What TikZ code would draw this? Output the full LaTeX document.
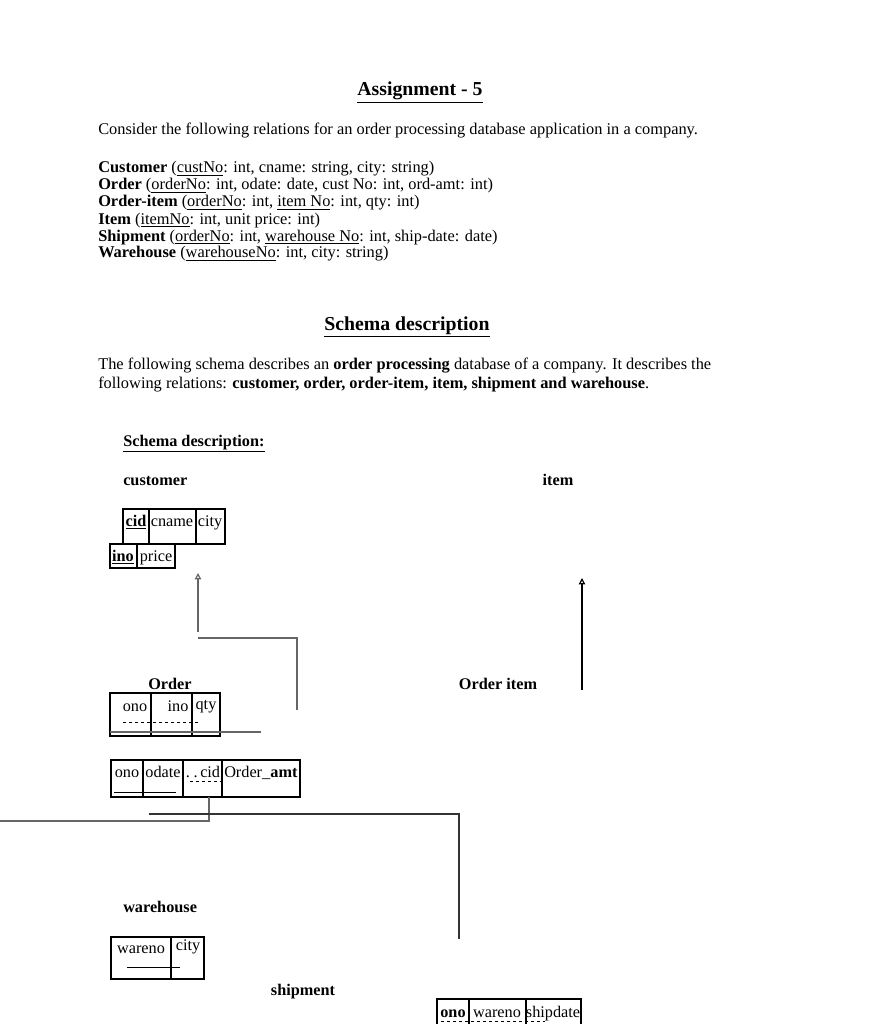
\documentclass[tikz,border=0pt]{standalone}
\usepackage{fontspec}
\setmainfont{Liberation Serif}
\usetikzlibrary{arrows.meta}

\tikzset{
  body/.style={inner sep=0pt, anchor=base west, font=\fontsize{13.1}{15}\selectfont},
  head/.style={inner sep=0pt, anchor=base, font=\fontsize{15.8}{19}\selectfont\bfseries},
  lbl/.style={inner sep=0pt, anchor=base, font=\fontsize{13}{15}\selectfont},
  tname/.style={lbl, font=\fontsize{13}{15}\selectfont\bfseries},
  tbox/.style={line width=1pt},
  link/.style={line width=1pt, black!60},
  keyline/.style={line width=0.8pt, dash pattern=on 2.4pt off 2.4pt},
  uparrow/.style={-{Triangle[open,length=5pt,width=5pt]}},
}

\begin{document}
\begin{tikzpicture}[x=0.8pt, y=-0.8pt]
\fill[white] (0,0) rectangle (875,1024);
\useasboundingbox (0,0) rectangle (875,1024);

% title
\node[head] (title) at (420,96) {\underline{Assignment - 5}};
\node[body] (intro) at (98,135) {Consider the following relations for an order processing database application in a company.};

% relations
\node[body] (rcust) at (98,173) {\textbf{Customer} (\underline{custNo}: int, cname: string, city: string)};
\node[body] (rord) at (98,190) {\textbf{Order} (\underline{orderNo}: int, odate: date, cust No: int, ord-amt: int)};
\node[body] (rordit) at (98,207) {\textbf{Order-item} (\underline{orderNo}: int, \underline{item No}: int, qty: int)};
\node[body] (ritem) at (98,224) {\textbf{Item} (\underline{itemNo}: int, unit price: int)};
\node[body] (rship) at (98,241) {\textbf{Shipment} (\underline{orderNo}: int, \underline{warehouse No}: int, ship-date: date)};
\node[body] (rware) at (98,258) {\textbf{Warehouse} (\underline{warehouseNo}: int, city: string)};

% schema description
\node[head] (schema) at (407,330) {\underline{Schema description}};
\node[body] (para1) at (98,369) {The following schema describes an \textbf{order processing} database of a company. It describes the};
\node[body] (para2) at (98,388) {following relations: \textbf{customer, order, order-item, item, shipment and warehouse}.};

% diagram labels
\node[tname, anchor=base west] (sdesc) at (123,446) {\underline{Schema description:}};
\node[tname, anchor=base west] (lcust) at (123,485) {customer};
\node[tname] (litem) at (558,485) {item};
\node[tname] (lorder) at (170,689) {Order};
\node[tname] (lorditem) at (498,689) {Order item};
\node[tname, anchor=base west] (lware) at (123,912) {warehouse};
\node[tname] (lship) at (303,995) {shipment};

% customer table
\draw[tbox] (123,509) rectangle (225,544);
\draw[tbox] (149,509) -- (149,544) (196,509) -- (196,544);
\node[lbl] (cid) at (136,526) {\textbf{\underline{cid}}};
\node[lbl] (cname) at (172,526) {cname};
\node[lbl] (ccity) at (210,526) {city};

% item table
\draw[line width=1.4pt] (110,544) rectangle (175,568);
\draw[tbox] (137,544) -- (137,568);
\node[lbl] (ino) at (123,561) {\textbf{\underline{ino}}};
\node[lbl] (price) at (156,561) {price};

% link order item -> item
\coordinate (a1) at (198,632);
\coordinate (a2) at (198,573);
\coordinate (b1) at (198,638);
\coordinate (b2) at (297,638);
\coordinate (b3) at (297,710);
\draw[link, uparrow] (a1) -- (a2);
\draw[link] (b1) -- (b2) -- (b3);

% order item table
\draw[tbox] (110,693) rectangle (220,736);
\draw[tbox] (151,693) -- (151,736) (192,693) -- (192,736);
\draw[link] (110,732) -- (261,732);
\node[lbl] (oino) at (135,711) {ono};
\node[lbl] (iino) at (178,711) {ino};
\node[lbl] (qty) at (206,709) {qty};
\draw[keyline] (123,722) -- (200,722);

% link order item -> item (right)
\coordinate (c1) at (582,690);
\coordinate (c2) at (582,578);
\draw[tbox, uparrow] (c1) -- (c2);

% order table
\draw[tbox] (111,760) rectangle (300,797);
\draw[tbox] (143,760) -- (143,797) (183,760) -- (183,797) (222,760) -- (222,797);
\node[lbl] (ono) at (127,777) {ono};
\node[lbl] (odate) at (163,777) {odate};
\node[lbl] (ocid) at (203,777) {.\hspace{3pt}.\hspace{2pt}cid};
\node[lbl, anchor=base west] (oamt) at (224,777) {Order\_\textbf{amt}};
\draw[line width=0.8pt] (114,792) -- (176,792);
\draw[keyline] (190,781) -- (224,781);

% links from order
\coordinate (d1) at (209,797);
\coordinate (d2) at (209,821);
\coordinate (d3) at (0,821);
\coordinate (e1) at (149,814);
\coordinate (e2) at (459,814);
\coordinate (e3) at (459,939);
\draw[link] (d1) -- (d2) -- (d3);
\draw[tbox, black!80] (e1) -- (e2) -- (e3);

% warehouse table
\draw[tbox] (111,937) rectangle (204,979);
\draw[tbox] (171,937) -- (171,979);
\node[lbl] (wno) at (141,953) {wareno};
\node[lbl] (wcity) at (188,950) {city};
\draw[line width=0.8pt] (127,967) -- (180,967);

% shipment table
\draw[tbox] (437,999) rectangle (581,1030);
\draw[tbox] (469,999) -- (469,1030) (526,999) -- (526,1030);
\node[lbl] (sono) at (453,1017) {\textbf{ono}};
\node[lbl] (sware) at (497,1017) {wareno};
\node[lbl] (sdate) at (553,1017) {shipdate};
\draw[keyline] (441,1021) -- (545,1021);
\end{tikzpicture}
\end{document}
